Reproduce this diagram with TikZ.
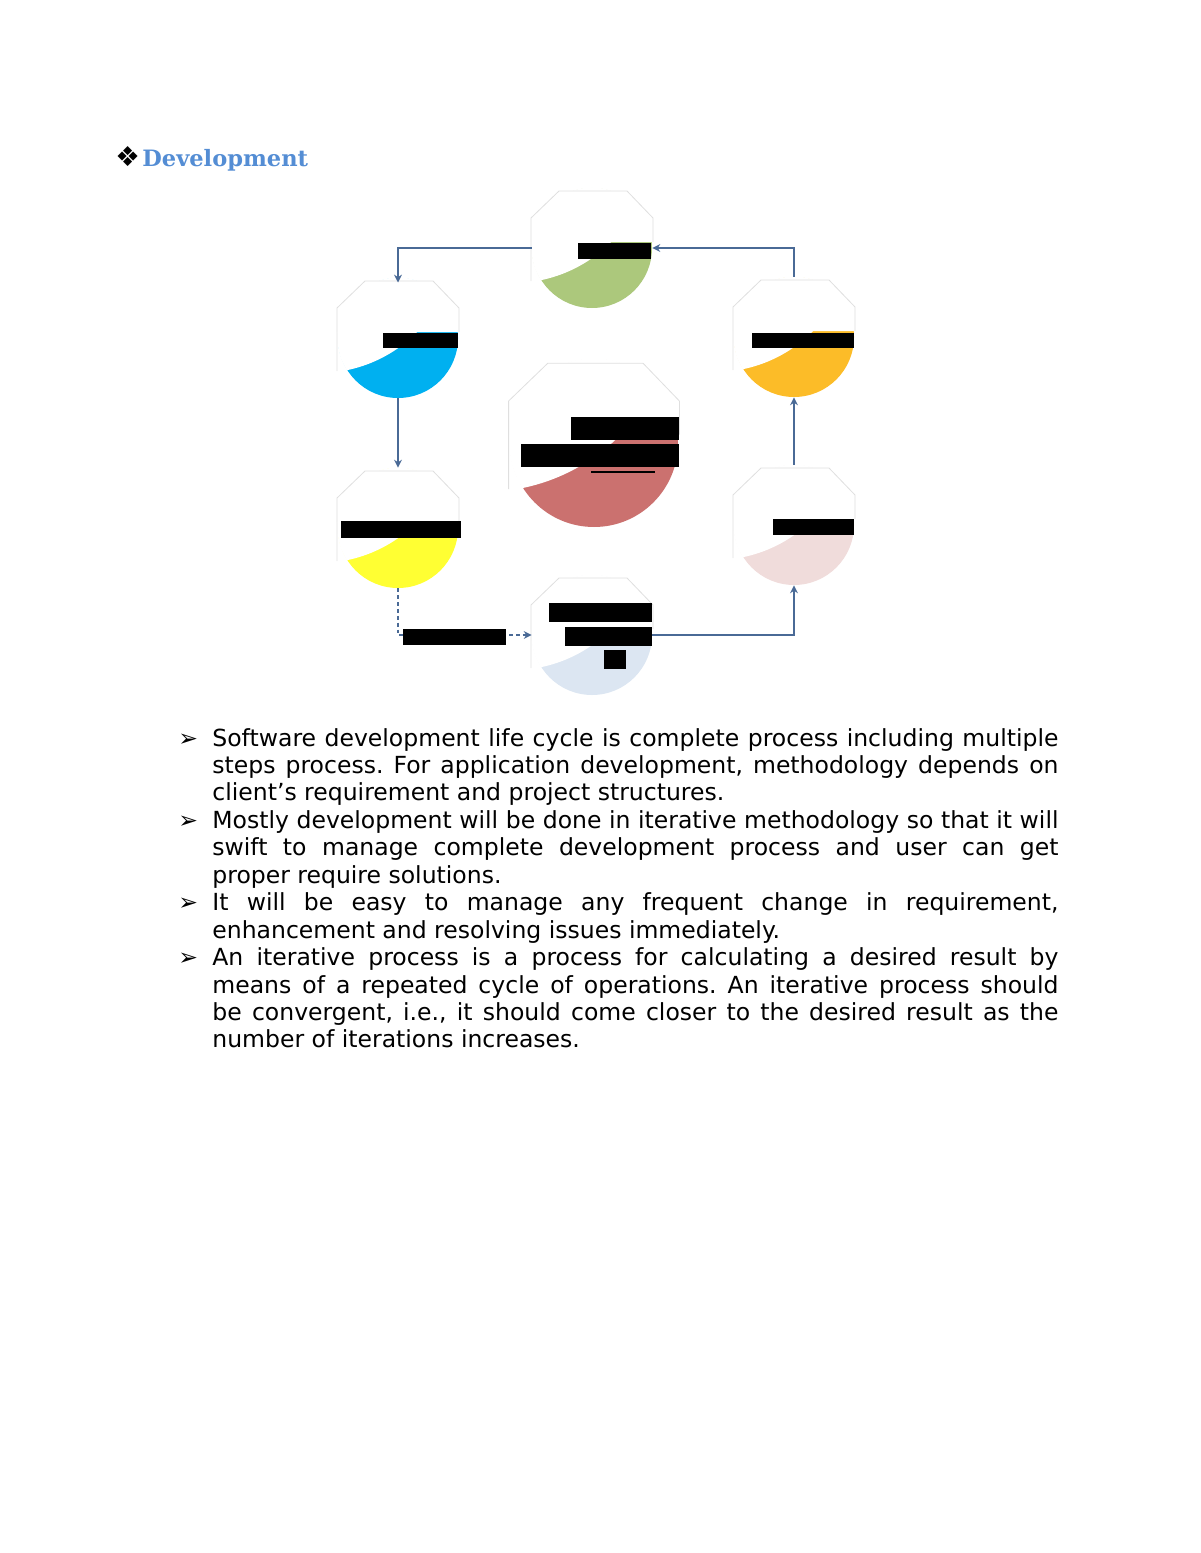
\documentclass[tikz,border=0pt]{standalone}
\usepackage{fontspec}
\setmainfont{DejaVu Sans}
\newfontfamily\headfont{DejaVu Serif}
\usetikzlibrary{arrows.meta}

\definecolor{headblue}{RGB}{84,141,212}
\definecolor{flowblue}{RGB}{74,106,150}
\definecolor{phgreen}{RGB}{172,200,124}
\definecolor{phcyan}{RGB}{0,176,240}
\definecolor{phgold}{RGB}{252,188,40}
\definecolor{phred}{RGB}{203,113,111}
\definecolor{phyellow}{RGB}{255,255,51}
\definecolor{phpink}{RGB}{240,220,219}
\definecolor{phsky}{RGB}{220,230,242}

% one phase of the cycle: name, centre, scale, colour
\newcommand{\lifephase}[4]{%
  \begin{scope}[shift={#2}, scale=#3]
    \fill[#4] (0,0) circle (60);
    \fill[white] (-62,-6) -- (-62,-30) -- (-33,-57) -- (35,-57) -- (62,-30) -- (62,-6) -- cycle;
    \begin{scope}
      \clip (0,0) circle (60.5);
      \fill[white] (-79,-103) circle (138);
    \end{scope}
    \draw[octagon edge] (-61,33) -- (-61,-30) -- (-33,-57) -- (35,-57) -- (61,-30) -- (61,-6);
  \end{scope}
  \node[phase, minimum size=#3*61.2pt] (#1) at #2 {};
}

\begin{document}
\begin{tikzpicture}[x=0.51pt, y=-0.51pt,
  phase/.style={circle, inner sep=0pt},
  octagon edge/.style={gray!25, line width=0.4pt},
  redact/.style={fill=black},
  flow/.style={draw=flowblue, line width=0.7pt, -{Stealth[length=4pt,width=4pt]}},
  bodytext/.style={text width=431.5pt, align=justify, inner sep=0pt,
    font=\fontsize{12}{14}\selectfont}]
\useasboundingbox (0,0) rectangle (1200,1553);

% Heading
\node[anchor=base west, inner sep=0pt, font=\fontsize{14}{16}\selectfont] (mark) at (115,167) {❖};
\node[anchor=base west, inner sep=0pt, text=headblue, font=\headfont\bfseries\fontsize{11.5}{14}\selectfont] (title) at (142,167) {Development};

% Phases
\lifephase{top}{(592,248)}{1}{phgreen}
\lifephase{upleft}{(398,338)}{1}{phcyan}
\lifephase{upright}{(794,337)}{1}{phgold}
\lifephase{hub}{(594,443)}{1.4}{phred}
\lifephase{lowleft}{(398,528)}{1}{phyellow}
\lifephase{lowright}{(794,525)}{1}{phpink}
\lifephase{bottom}{(592,635)}{1}{phsky}

% Connectors
\draw[flow, shorten >=-2.5pt] (top.west) -| (upleft.north);
\draw[flow] (upright.north) |- (top.east);
\draw[flow] (upleft.south) -- (lowleft.north);
\draw[flow] (lowright.north) -- (upright.south);
\draw[flow, dash pattern=on 2pt off 1.5pt] (lowleft.south) |- (bottom.west);
\draw[flow] (bottom.east) -| (lowright.south);

% Hidden labels
\fill[redact] (578,243) rectangle (651,259);
\fill[redact] (383,333) rectangle (458,348);
\fill[redact] (752,333) rectangle (854,348);
\fill[redact] (571,417) rectangle (679,440);
\fill[redact] (521,444) rectangle (679,467);
\draw[line width=1pt] (591,472) -- (655,472);
\fill[redact] (341,521) rectangle (461,538);
\fill[redact] (773,519) rectangle (854,535);
\fill[redact] (549,603) rectangle (652,622);
\fill[redact] (565,627) rectangle (652,646);
\fill[redact] (604,650) rectangle (626,669);
\fill[redact] (403,629) rectangle (506,645);

% Bullet points
\node[bodytext, anchor=base west] (points) at (212,746) {%
\frenchspacing\hyphenpenalty=10000\tolerance=10000
\leavevmode\llap{\makebox[17.3pt][l]{➢}}Software development life cycle is complete process including multiple\linebreak
steps process. For application development, methodology depends on\linebreak
client’s requirement and project structures.\par
\leavevmode\llap{\makebox[17.3pt][l]{➢}}Mostly development will be done in iterative methodology so that it will\linebreak
swift to manage complete development process and user can get\linebreak
proper require solutions.\par
\leavevmode\llap{\makebox[17.3pt][l]{➢}}It will be easy to manage any frequent change in requirement,\linebreak
enhancement and resolving issues immediately.\par
\leavevmode\llap{\makebox[17.3pt][l]{➢}}An iterative process is a process for calculating a desired result by\linebreak
means of a repeated cycle of operations. An iterative process should\linebreak
be convergent, i.e., it should come closer to the desired result as the\linebreak
number of iterations increases.};
\end{tikzpicture}
\end{document}
